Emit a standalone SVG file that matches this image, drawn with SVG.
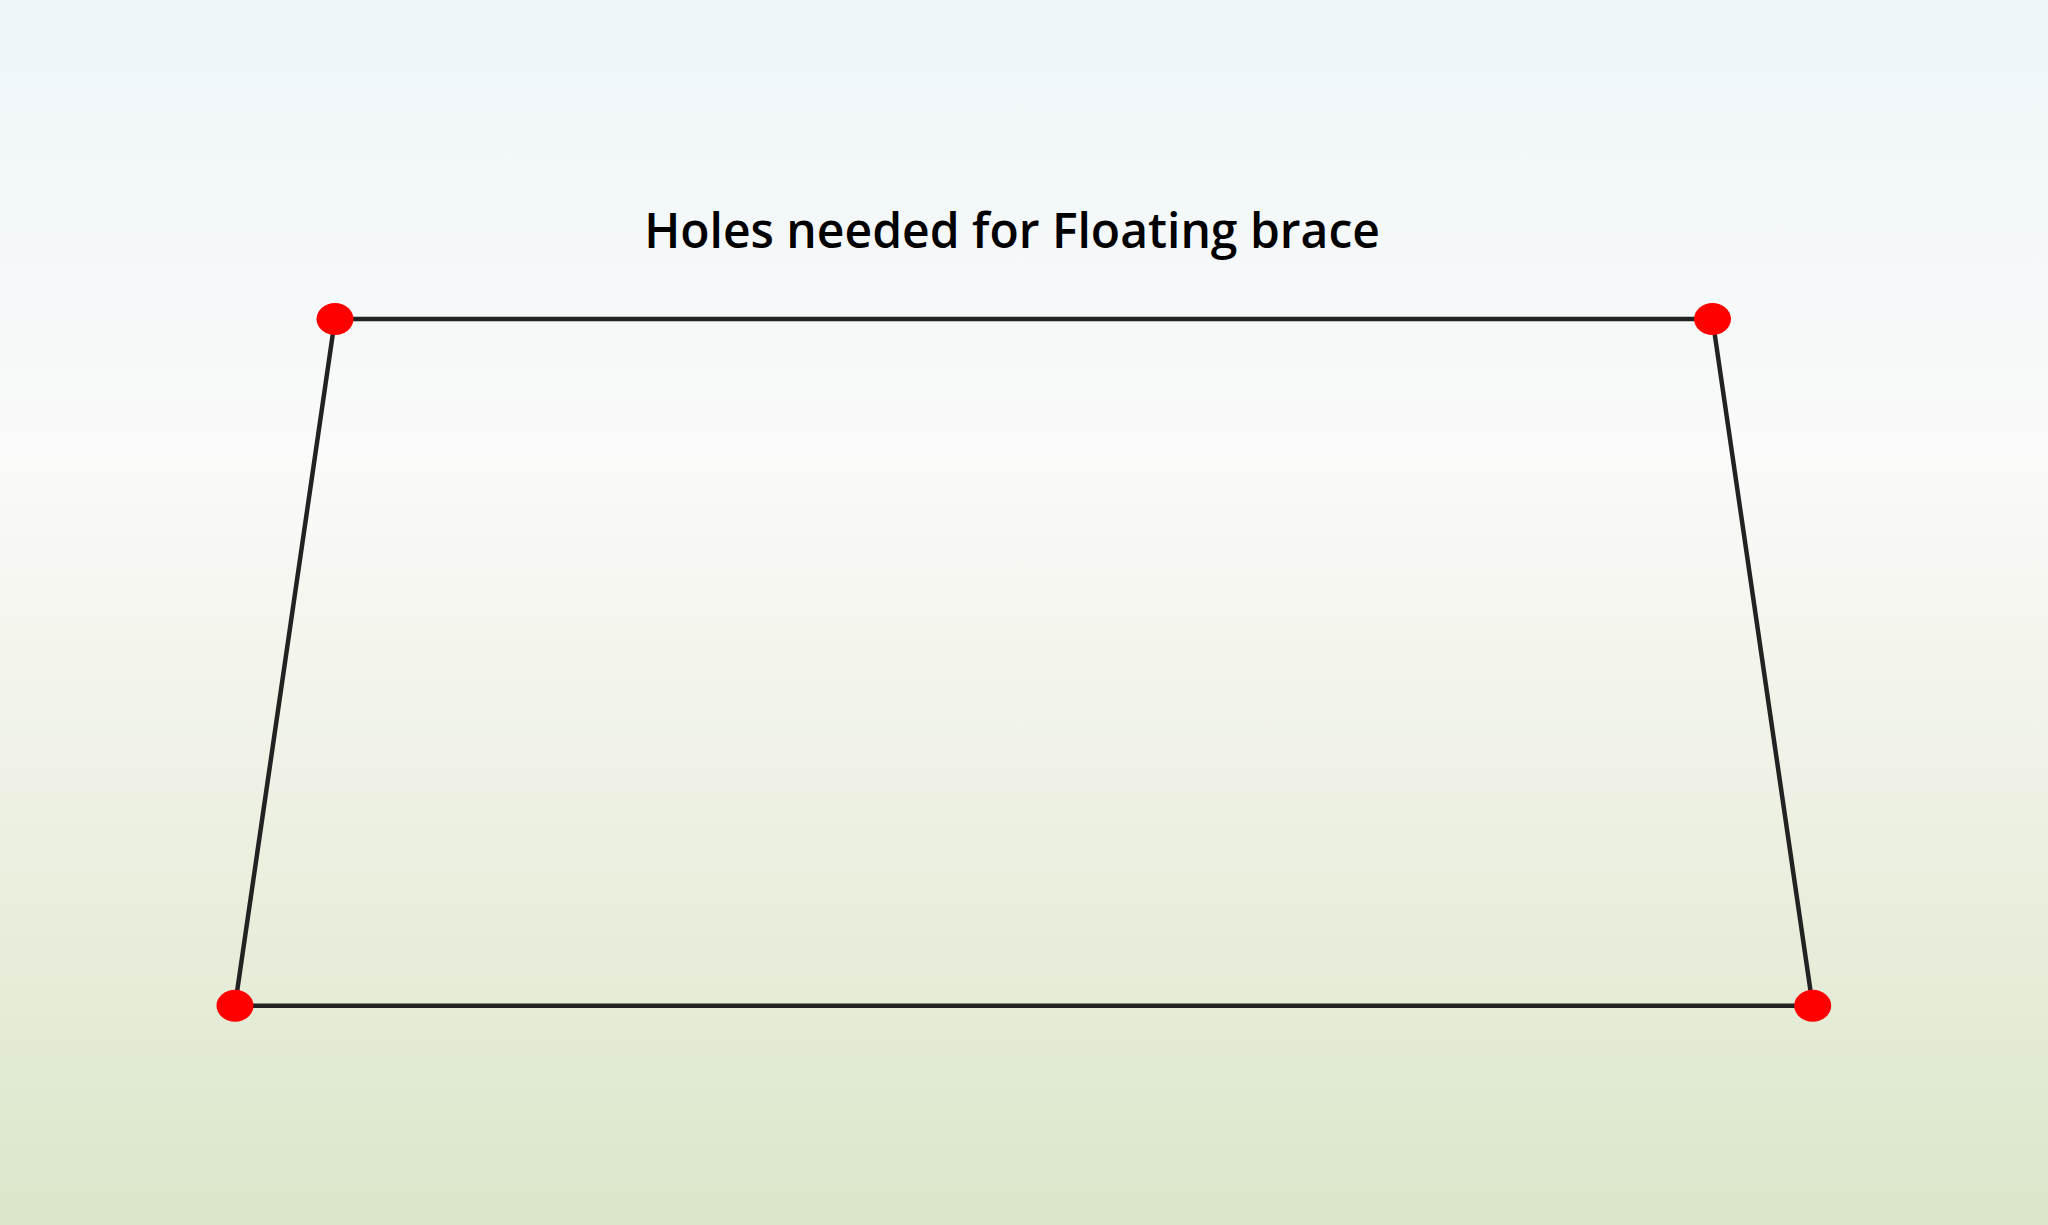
<svg xmlns="http://www.w3.org/2000/svg" width="2048" height="1225" viewBox="0 0 2048 1225">
  <defs>
    <linearGradient id="bg" x1="0" y1="0" x2="0" y2="1">
      <stop offset="0" stop-color="#eef6f9"/>
      <stop offset="0.38" stop-color="#fafaf9"/>
      <stop offset="0.62" stop-color="#eff2e5"/>
      <stop offset="1" stop-color="#dbe6ca"/>
    </linearGradient>
    <style>
      .edge { stroke: #222222; stroke-width: 4.5; fill: none; stroke-linecap: round; }
      .hole { fill: #ff0000; }
      .title { font-family: "Open Sans", "Liberation Sans", sans-serif; font-weight: 600; font-size: 48px; fill: #000000; }
    </style>
  </defs>
  <rect x="0" y="0" width="2048" height="1225" fill="url(#bg)"/>
  <text class="title" x="1012" y="248" text-anchor="middle">Holes needed for Floating brace</text>
  <g id="connectors">
    <line class="edge" x1="335" y1="319" x2="1712.5" y2="319"/>
    <line class="edge" x1="1712.5" y1="319" x2="1812.7" y2="1005.7"/>
    <line class="edge" x1="1812.7" y1="1005.7" x2="235" y2="1005.7"/>
    <line class="edge" x1="235" y1="1005.7" x2="335" y2="319"/>
  </g>
  <g id="hole-top-left"><ellipse class="hole" cx="335" cy="319" rx="18.5" ry="16"/></g>
  <g id="hole-top-right"><ellipse class="hole" cx="1712.5" cy="319" rx="18.5" ry="16"/></g>
  <g id="hole-bottom-right"><ellipse class="hole" cx="1812.7" cy="1005.7" rx="18.5" ry="16"/></g>
  <g id="hole-bottom-left"><ellipse class="hole" cx="235" cy="1005.7" rx="18.5" ry="16"/></g>
</svg>
